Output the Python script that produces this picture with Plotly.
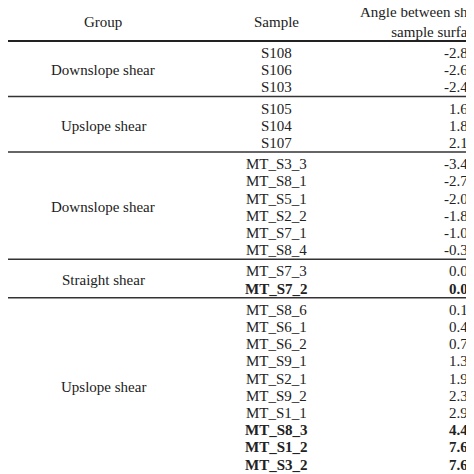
import plotly.graph_objects as go

groups = ["Downslope shear", "Upslope shear", "Downslope shear", "Straight shear", "Upslope shear"]
samples = [
    ["S108", "S106", "S103"],
    ["S105", "S104", "S107"],
    ["MT_S3_3", "MT_S8_1", "MT_S5_1", "MT_S2_2", "MT_S7_1", "MT_S8_4"],
    ["MT_S7_3", "MT_S7_2"],
    ["MT_S8_6", "MT_S6_1", "MT_S6_2", "MT_S9_1", "MT_S2_1", "MT_S9_2", "MT_S1_1",
     "MT_S8_3", "MT_S1_2", "MT_S3_2"],
]
angles = [
    ["-2.8", "-2.6", "-2.4"],
    ["1.6", "1.8", "2.1"],
    ["-3.4", "-2.7", "-2.0", "-1.8", "-1.0", "-0.3"],
    ["0.0", "0.0"],
    ["0.1", "0.4", "0.7", "1.3", "1.9", "2.3", "2.9", "4.4", "7.6", "7.6"],
]
bold = {"MT_S7_2", "MT_S8_3", "MT_S1_2", "MT_S3_2"}
headers = ["Group", "Sample", "Angle between sh<br>sample surfa"]

font = dict(family="Liberation Serif", size=15, color="#222")
fig = go.Figure()
ann = []
shapes = []

row_h = 17.2
gap = 3.5
y = 45
for gi, g in enumerate(groups):
    start = y
    for s, a in zip(samples[gi], angles[gi]):
        b = s in bold
        st = "<b>%s</b>" if b else "%s"
        ann.append(dict(x=268, y=y, text=st % s, showarrow=False, font=font, xanchor="center"))
        ann.append(dict(x=462, y=y, text=st % a, showarrow=False, font=font, xanchor="right"))
        y += row_h
    end = y - row_h
    ann.append(dict(x=95, y=(start + end) / 2, text=g, showarrow=False, font=font))
    sep = y - row_h / 2 + 0.5
    if gi < len(groups) - 1:
        shapes.append(dict(type="line", x0=0, x1=474, y0=sep, y1=sep,
                           line=dict(color="#333", width=1.5)))
    y = sep + row_h / 2 + gap

ann.append(dict(x=95, y=14, text=headers[0], showarrow=False, font=font))
ann.append(dict(x=268, y=14, text=headers[1], showarrow=False, font=font))
ann.append(dict(x=462, y=14, text=headers[2], showarrow=False, font=font, xanchor="right", align="right"))
shapes.append(dict(type="line", x0=0, x1=474, y0=33, y1=33, line=dict(color="#222", width=2)))

fig.update_layout(
    width=474, height=474, margin=dict(l=0, r=0, t=0, b=0),
    plot_bgcolor="white", paper_bgcolor="white",
    xaxis=dict(range=[0, 474], visible=False),
    yaxis=dict(range=[474, 0], visible=False),
    annotations=ann, shapes=shapes, showlegend=False,
)
fig.write_html("out.html")
